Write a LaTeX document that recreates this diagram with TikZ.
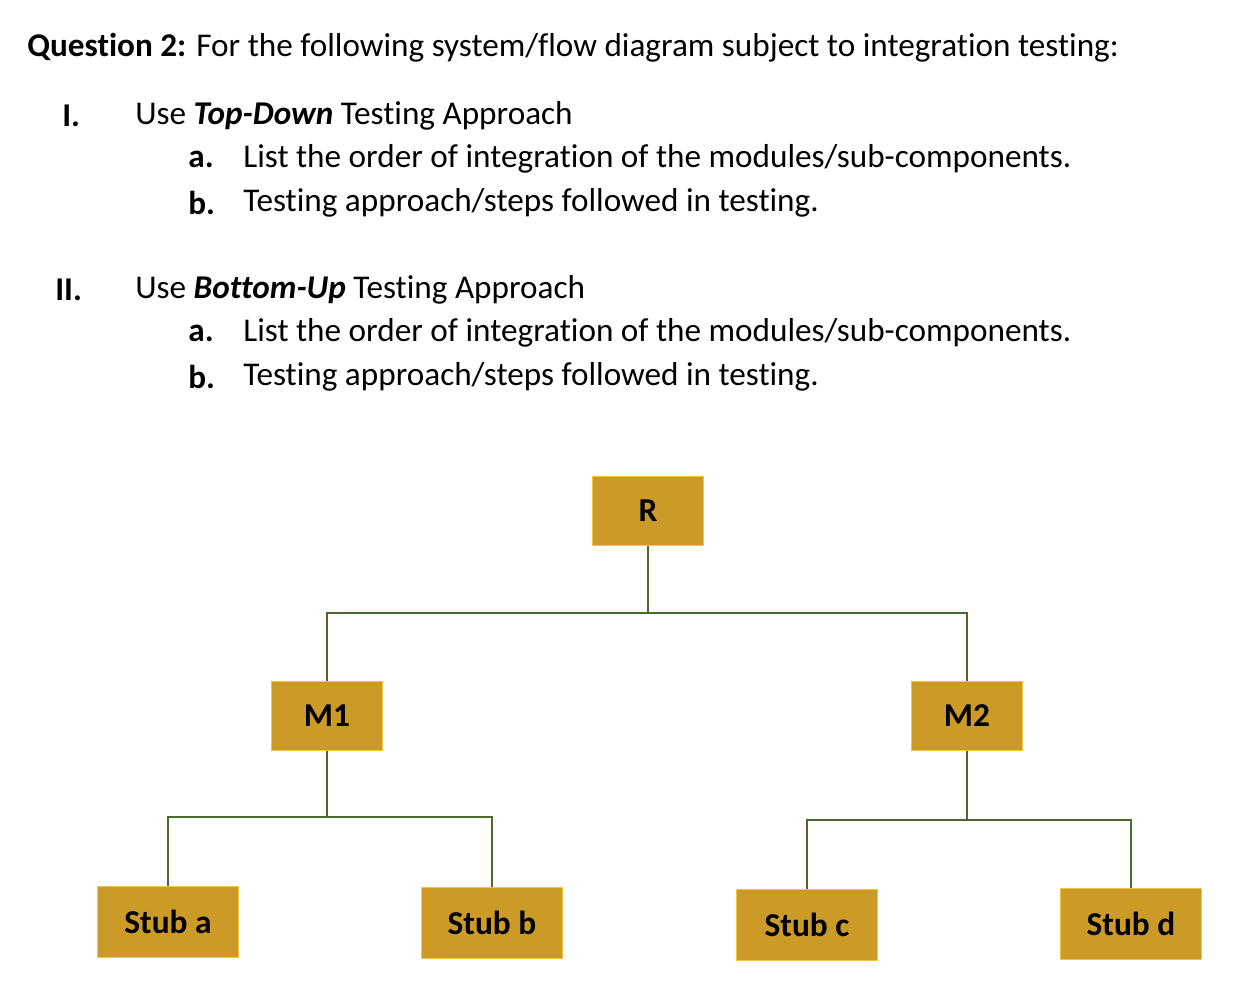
\documentclass[tikz,border=0pt]{standalone}
\usepackage{fontspec}
\setmainfont{Carlito}[Ligatures={NoCommon,NoContextual}]
\usetikzlibrary{positioning}
\definecolor{boxfill}{HTML}{CC9A26}
\definecolor{boxline}{HTML}{F5C242}
\definecolor{wire}{HTML}{4A6B30}
\begin{document}
\begin{tikzpicture}[
  x=0.02cm, y=-0.02cm,
  module/.style={
    rectangle, draw=boxline, fill=boxfill, line width=0.8pt,
    minimum width=2.22cm, minimum height=1.38cm,
    font=\fontsize{19}{22}\selectfont\bfseries
  },
  stub/.style={module, minimum width=2.82cm, minimum height=1.42cm},
  txt/.style={anchor=west, inner sep=0pt, font=\fontsize{18.9}{22}\selectfont},
  link/.style={draw=wire, line width=1.5pt}
]
\useasboundingbox (0,0) rectangle (1248,1002);

% Question text
\node[txt] (q) at (27,48) {\textbf{Question 2:} For the following system/flow diagram subject to integration testing:};
\node[txt] (n1) at (62,116) {\textbf{I.}};
\node[txt] (t1) at (135,116) {Use \textbf{\textit{Top-Down}} Testing Approach};
\node[txt] (a1) at (188,159) {\textbf{a.}};
\node[txt] (a1t) at (243,159) {List the order of integration of the modules/sub-components.};
\node[txt] (b1) at (188,203) {\textbf{b.}};
\node[txt] (b1t) at (243,203) {Testing approach/steps followed in testing.};
\node[txt] (n2) at (55,290) {\textbf{II.}};
\node[txt] (t2) at (135,290) {Use \textbf{\textit{Bottom-Up}} Testing Approach};
\node[txt] (a2) at (188,333) {\textbf{a.}};
\node[txt] (a2t) at (243,333) {List the order of integration of the modules/sub-components.};
\node[txt] (b2) at (188,377) {\textbf{b.}};
\node[txt] (b2t) at (243,377) {Testing approach/steps followed in testing.};

% Modules
\node[module] (R) at (648,511) {R};
\node[module] (M1) at (327,716) {M1};
\node[module] (M2) at (967,716) {M2};
\node[stub] (sa) at (168,922) {Stub a};
\node[stub] (sb) at (492,923) {Stub b};
\node[stub] (sc) at (807,925) {Stub c};
\node[stub] (sd) at (1131,924) {Stub d};

% Links
\coordinate (jr) at (648,613);
\coordinate (j1) at (327,817);
\coordinate (j2) at (967,820);
\draw[link] (R.south) -- (jr);
\draw[link] (jr) -| (M1.north);
\draw[link] (jr) -| (M2.north);
\draw[link] (M1.south) -- (j1);
\draw[link] (j1) -| (sa.north);
\draw[link] (j1) -| (sb.north);
\draw[link] (M2.south) -- (j2);
\draw[link] (j2) -| (sc.north);
\draw[link] (j2) -| (sd.north);
\end{tikzpicture}
\end{document}
